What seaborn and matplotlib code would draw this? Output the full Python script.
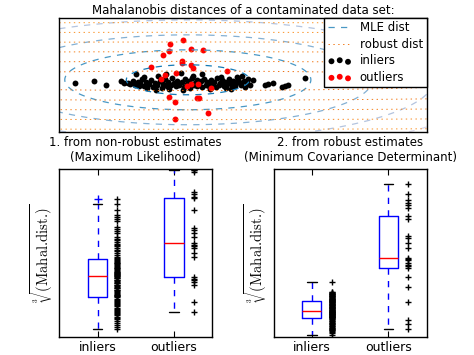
import numpy as np
import matplotlib
matplotlib.use('Agg')
import matplotlib.pyplot as plt
import seaborn as sns

# ---- top panel: contaminated 2-D sample ----
inlier_x = [-7.20, -6.20, -5.56, -4.83, -4.66, -4.46, -4.35, -4.01,
            2.02, 2.64, 2.80, 3.07, 3.51, 3.68, 3.83, 4.72,
            -4.2, -4.1, -3.95, -3.9, -3.8, -3.7, -3.6, -3.5, -3.45, -3.35,
            -3.25, -3.15, -3.05, -2.95, -2.9, -2.8, -2.7, -2.65, -2.55, -2.45,
            -2.4, -2.3, -2.2, -2.15, -2.05, -1.95, -1.9, -1.8, -1.7, -1.65,
            -1.55, -1.5, -1.4, -1.3, -1.25, -1.15, -1.05, -1.0, -0.9, -0.85,
            -0.75, -0.65, -0.6, -0.5, -0.4, -0.35, -0.25, -0.15, -0.1, 0.0,
            0.1, 0.15, 0.25, 0.3, 0.4, 0.5, 0.55, 0.65, 0.7, 0.8,
            0.85, 0.95, 1.0, 1.1, 1.15, 1.25, 1.3, 1.4, 1.45, 1.55,
            1.6, 1.7, 1.75, 1.85, -3.0, -1.6, -0.2, 0.9, -2.5, -0.6,
            0.35, 1.2, -3.6, -1.1]
inlier_y = [-2.9, -2.1, -3.6, -2.1, -2.7, -2.8, -3.3, 0.25,
            -1.75, -3.6, -3.2, -2.7, -4.2, -3.9, -3.6, -0.95,
            -2.0, -3.4, -2.6, -4.0, -3.0, -1.6, -3.8, -2.4, -4.5, -3.1,
            -1.9, -4.2, -2.8, -3.6, -0.5, -2.2, -4.6, -3.2, -1.5, -3.9,
            -2.6, -4.9, -3.4, -1.0, -2.9, -4.1, -2.1, -3.6, 0.6, -2.6,
            -4.4, -1.6, -3.2, -2.3, -4.7, -1.2, -3.5, -2.7, -4.1, -1.8,
            -3.0, -2.2, -4.4, -1.4, -3.4, -2.6, -4.0, -1.9, -3.1, -2.4,
            -4.3, -1.2, -3.5, -2.8, -1.9, -3.9, -2.5, -4.6, -3.2, -1.6,
            -2.7, -3.8, -2.1, -4.0, -3.0, -1.3, -2.6, -3.6, -0.3, -2.3,
            -4.2, -2.9, -1.6, -3.4, -5.2, -5.3, -5.0, -5.1, 0.3, 0.2,
            -0.6, -0.9, -0.9, -0.4]
outlier_x = [-2.28, -1.58, -2.30, -2.64, -1.66, -1.66, -1.19, -0.54, -3.24,
             -1.95, -2.51, -2.72, -1.19, -1.10, 0.66, -1.16, -0.80, -0.16,
             -2.33, -1.99, -0.90, -0.76, -0.30, -1.99, -1.41]
outlier_y = [10.7, 12.1, 8.5, 7.0, 4.7, 4.2, 9.0, 8.7, 2.6,
             0.7, 0.0, -1.3, 3.4, 2.3, 1.4, -3.2, -3.3, -4.5,
             -7.7, -9.7, -8.3, -8.0, -13.4, -15.5, -3.9]

# location / covariance estimates and contour levels (sqrt of mahalanobis)
mle_location = [-1.35, -1.75]
mle_covariance = [[4.5, 0.0], [0.0, 12.25]]
mle_levels = [1.5, 3.0, 4.5, 6.0, 7.5]
robust_location = [-1.35, -2.1]
robust_covariance = [[25.0, 0.0], [0.0, 1.0]]
robust_levels = [3.4, 6.8, 10.2, 13.6, 17.0, 20.4]

# ---- bottom panels: cube root of mahalanobis distances ----
mle_inliers = [2.46, 2.375, 2.268, 2.179, 2.138, 2.102, 2.077, 1.970, 1.929, 1.893,
               1.852, 1.791, 1.76, 1.73, 1.70, 1.67, 1.64, 1.62, 1.59, 1.56,
               1.53, 1.50, 1.47, 1.44, 1.42,
               1.39, 1.38, 1.36, 1.35, 1.33, 1.32, 1.30, 1.29, 1.27, 1.26,
               1.24, 1.23, 1.21, 1.20, 1.18, 1.17, 1.16, 1.15, 1.14, 1.13,
               1.12, 1.11, 1.105, 1.10, 1.095,
               1.08, 1.06, 1.05, 1.03, 1.02, 1.00, 0.99, 0.97, 0.96, 0.94,
               0.93, 0.91, 0.90, 0.88, 0.87, 0.85, 0.84, 0.82, 0.81, 0.79,
               0.78, 0.76, 0.75, 0.74, 0.73,
               0.71, 0.69, 0.67, 0.65, 0.63, 0.61, 0.59, 0.57, 0.55, 0.53,
               0.51, 0.49, 0.47, 0.45, 0.43, 0.41, 0.39, 0.37, 0.35, 0.32,
               0.29, 0.26, 0.22, 0.19, 0.15]
mle_outliers = [2.99, 2.98, 2.95, 2.595, 2.548, 2.505, 2.482, 2.268, 1.941, 1.911,
                1.852, 1.791, 1.673, 1.643, 1.625, 1.584, 1.495, 1.434, 1.077, 1.048,
                1.018, 0.988, 0.929, 0.630, 0.452]
mcd_inliers = [1.317, 1.08, 1.07, 1.06, 1.05, 1.04, 1.03, 1.02, 1.01, 1.0,
               0.99, 0.98, 0.97, 0.96, 0.95, 0.94, 0.93, 0.92, 0.91, 0.90,
               0.89, 0.88, 0.875, 0.87, 0.865,
               0.855, 0.846, 0.837, 0.828, 0.819, 0.810, 0.801, 0.792, 0.783, 0.774,
               0.765, 0.756, 0.747, 0.738, 0.729, 0.720, 0.711, 0.702, 0.693, 0.684,
               0.675, 0.666, 0.657, 0.648, 0.639,
               0.633, 0.626, 0.619, 0.612, 0.605, 0.598, 0.591, 0.584, 0.577, 0.570,
               0.563, 0.556, 0.549, 0.542, 0.535, 0.528, 0.521, 0.514, 0.507, 0.500,
               0.493, 0.486, 0.479, 0.472, 0.465,
               0.455, 0.44, 0.425, 0.41, 0.395, 0.38, 0.365, 0.35, 0.335, 0.32,
               0.305, 0.29, 0.275, 0.26, 0.245, 0.23, 0.215, 0.20, 0.19, 0.18,
               0.17, 0.15, 0.12, 0.09, 0.064]
mcd_outliers = [3.636, 3.398, 3.262, 3.190, 3.143, 3.079, 2.881, 2.802, 2.405, 2.350,
                2.231, 2.112, 1.888, 1.857, 1.833, 1.769, 1.714, 1.690, 1.636, 1.436,
                1.198, 0.840, 0.421, 0.326, 0.207]
groups = ['inliers', 'outliers']

sns.set_style('white', {'axes.edgecolor': 'black', 'text.color': 'black',
                        'axes.labelcolor': 'black', 'xtick.color': 'black'})
plt.rcParams['font.family'] = ['DejaVu Sans']
plt.rcParams['mathtext.fontset'] = 'cm'
plt.rcParams['lines.scale_dashes'] = False
plt.rcParams['lines.dashed_pattern'] = [4.5, 4.5]
plt.rcParams['lines.dotted_pattern'] = [1, 2.5]
plt.rcParams['axes.linewidth'] = 1.0

fig = plt.figure(figsize=(4.74, 3.55), dpi=100)
plt.subplots_adjust(hspace=-.1, wspace=.4, top=.95, bottom=.05, left=.125, right=.9)

# ---------------- top ----------------
ax1 = plt.subplot(3, 1, 1)
sns.scatterplot(x=inlier_x, y=inlier_y, color='black', s=18, linewidth=0, ax=ax1)
h_in = ax1.collections[-1]
sns.scatterplot(x=outlier_x, y=outlier_y, color='red', s=18, linewidth=0, ax=ax1)
h_out = ax1.collections[-1]
ax1.set_xlim(-8, 11)
ax1.set_ylim(-20, 20)

xx, yy = np.meshgrid(np.linspace(-8, 11, 300), np.linspace(-20, 20, 300))
zz = np.c_[xx.ravel(), yy.ravel()]


def mahal(loc, cov):
    diff = zz - np.asarray(loc)
    prec = np.linalg.inv(np.asarray(cov))
    return np.sqrt(np.sum((diff @ prec) * diff, axis=1)).reshape(xx.shape)


cs_mle = ax1.contour(xx, yy, mahal(mle_location, mle_covariance), levels=mle_levels,
                     cmap='PuBu_r', vmin=-2, vmax=10, linestyles='dashed', linewidths=0.9)
cs_rob = ax1.contour(xx, yy, mahal(robust_location, robust_covariance), levels=robust_levels,
                     cmap='YlOrBr_r', vmin=-50, vmax=91, linestyles='dotted', linewidths=0.7)
ax1.set_xticks([])
ax1.set_yticks([])
ax1.set_title('Mahalanobis distances of a contaminated data set:', fontsize=8.5, pad=3)

l_mle = cs_mle.legend_elements()[0][1]
l_rob = cs_rob.legend_elements()[0][1]
ax1.legend([l_mle, l_rob, h_in, h_out], ['MLE dist', 'robust dist', 'inliers', 'outliers'],
           loc='upper right', borderaxespad=0, scatterpoints=3, fancybox=False,
           edgecolor='black', framealpha=1, fontsize=8.5, labelspacing=0.3,
           borderpad=0.3, handletextpad=0.7)


# ---------------- bottom ----------------
def box_panel(ax, inl, outl, title, ylim):
    sns.boxplot(data=[inl, outl], width=.25, ax=ax, fill=False, linewidth=1,
                whis=1.5,
                boxprops=dict(color='b'),
                medianprops=dict(color='r'),
                whiskerprops=dict(color='b', linestyle='--'),
                capprops=dict(color='k'),
                flierprops=dict(marker='+', markeredgecolor='b', markersize=6))
    ax.plot(np.full(len(inl), 0.26), inl, '+k', markeredgewidth=1, markersize=5)
    ax.plot(np.full(len(outl), 1.26), outl, '+k', markeredgewidth=1, markersize=5)
    ax.set_xlim(-0.5, 1.5)
    ax.set_ylim(*ylim)
    ax.set_xticks([0, 1])
    ax.set_xticklabels(groups, fontsize=9)
    ax.tick_params(axis='x', direction='in', top=True, bottom=True, length=4, pad=3)
    ax.set_yticks([])
    ax.set_ylabel(r'$\sqrt[3]{\rm{(Mahal.\!dist.\!)}}$', fontsize=10.5, labelpad=3)
    ax.set_title(title, fontsize=8.5)
    for s in ax.spines.values():
        s.set_visible(True)


ax2 = plt.subplot(2, 2, 3)
box_panel(ax2, mle_inliers, mle_outliers,
          '1. from non-robust estimates\n(Maximum Likelihood)', (0, 3))
ax3 = plt.subplot(2, 2, 4)
box_panel(ax3, mcd_inliers, mcd_outliers,
          '2. from robust estimates\n(Minimum Covariance Determinant)', (0, 4))

plt.savefig('out.png', dpi=100)
